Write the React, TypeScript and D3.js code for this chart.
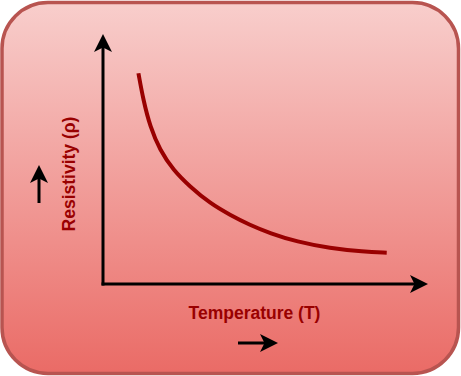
import React from "react";
import * as d3 from "d3";

const temperature = [1.09, 1.24, 1.45, 1.75, 2.16, 2.68, 3.29, 3.91, 4.52, 5.14, 5.96, 6.98, 8.01, 8.73];
const resistivity = [8.43, 7.36, 6.29, 5.36, 4.56, 3.89, 3.23, 2.76, 2.36, 2.03, 1.69, 1.43, 1.29, 1.25];
const xLabel = "Temperature (T)";
const yLabel = "Resistivity (ρ)";

const W = 461;
const H = 376;

export default function App() {
  const x = d3.scaleLinear().domain([0, 10]).range([103, 428]);
  const y = d3.scaleLinear().domain([0, 10]).range([284, 34]);
  const pts: [number, number][] = temperature.map((t, i) => [t, resistivity[i]]);
  const line = d3
    .line<[number, number]>()
    .x((d) => x(d[0]))
    .y((d) => y(d[1]))
    .curve(d3.curveBasis);

  const x0 = x(0), y0 = y(0), xTip = x(10), yTip = y(10);
  const headUp = (cx: number, tip: number, len: number, half: number) =>
    `M${cx},${tip} L${cx + half},${tip + len} L${cx},${tip + len * 0.75} L${cx - half},${tip + len} Z`;
  const headRight = (tip: number, cy: number, len: number, half: number) =>
    `M${tip},${cy} L${tip - len},${cy - half} L${tip - len * 0.75},${cy} L${tip - len},${cy + half} Z`;

  return (
    <svg
      width={W}
      height={H}
      style={{ position: "absolute", left: 0, top: 0, display: "block" }}
    >
      <defs>
        <linearGradient id="bg" x1="0" y1="0" x2="0" y2="1">
          <stop offset="0" stopColor="#f8cecc" />
          <stop offset="1" stopColor="#ea6b66" />
        </linearGradient>
      </defs>
      <rect x={0} y={0} width={W} height={H} fill="#ffffff" />
      <rect
        x={2}
        y={2.5}
        width={456.5}
        height={371}
        rx={46}
        ry={46}
        fill="url(#bg)"
        stroke="#b85450"
        strokeWidth={3.5}
      />
      <line x1={x0} y1={y0 + 1.5} x2={x0} y2={yTip + 12} stroke="#000" strokeWidth={3} />
      <path d={headUp(x0, yTip, 18, 9)} fill="#000" />
      <line x1={x0 - 1.5} y1={y0} x2={xTip - 12} y2={y0} stroke="#000" strokeWidth={3} />
      <path d={headRight(xTip, y0, 18, 9)} fill="#000" />
      <path d={line(pts) || ""} fill="none" stroke="#990000" strokeWidth={4} />
      <text
        x={254.5}
        y={319}
        textAnchor="middle"
        fontFamily="'Liberation Sans', Arial, sans-serif"
        fontWeight="bold"
        fontSize={17.5}
        fill="#990000"
      >
        {xLabel}
      </text>
      <text
        transform="translate(75,174) rotate(-90)"
        textAnchor="middle"
        fontFamily="'Liberation Sans', Arial, sans-serif"
        fontWeight="bold"
        fontSize={17.5}
        fill="#990000"
      >
        {yLabel}
      </text>
      <line x1={39} y1={203} x2={39} y2={175} stroke="#000" strokeWidth={3} />
      <path d={headUp(39, 165, 18, 9)} fill="#000" />
      <line x1={238} y1={343} x2={268} y2={343} stroke="#000" strokeWidth={3} />
      <path d={headRight(278, 343, 18, 9)} fill="#000" />
    </svg>
  );
}
